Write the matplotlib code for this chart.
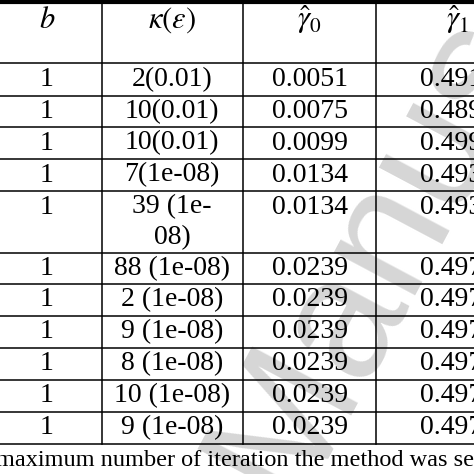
import matplotlib
matplotlib.use("Agg")
import matplotlib.pyplot as plt

headers = [r"$b$", r"$\kappa(\varepsilon)$", r"$\hat{\gamma}_{0}$", r"$\hat{\gamma}_{1}$"]
col_b = ["1"] * 11
col_kappa = ["2(0.01)", "10(0.01)", "10(0.01)", "7(1e-08)", "39 (1e-\n08)", "88 (1e-08)",
             "2 (1e-08)", "9 (1e-08)", "8 (1e-08)", "10 (1e-08)", "9 (1e-08)"]
col_g0 = ["0.0051", "0.0075", "0.0099", "0.0134", "0.0134", "0.0239", "0.0239", "0.0239",
          "0.0239", "0.0239", "0.0239"]
col_g1 = ["0.4914", "0.4898", "0.4996", "0.4930", "0.4930", "0.4977", "0.4977", "0.4977",
          "0.4977", "0.4977", "0.4977"]
footnote = "maximum number of iteration the method was set to, "

plt.rcParams['font.family'] = ['Liberation Serif', 'DejaVu Serif']
plt.rcParams['mathtext.fontset'] = 'stix'

fig = plt.figure(figsize=(4.74, 4.74), dpi=100)
ax = fig.add_axes([0, 0, 1, 1])
ax.set_xlim(0, 474); ax.set_ylim(474, 0); ax.axis('off')

vx = [102, 243, 376]
hy = [63, 96, 127, 159, 191, 253, 284, 316, 348, 380, 412, 444]
ax.plot([0, 474], [1.5, 1.5], color='black', lw=3, zorder=3)
for y in hy:
    ax.plot([0, 474], [y, y], color='black', lw=1.1, zorder=3)
for x in vx:
    ax.plot([x, x], [0, 444], color='black', lw=1.1, zorder=3)

FS = 20
cx = [47, 172, 310, 458]
for x, h in zip(cx, headers):
    ax.text(x, 20, h, ha='center', va='center', fontsize=FS + 2, zorder=3)

tops = [63] + hy[1:-1]
bots = hy[1:]
for i in range(11):
    t, b = tops[i], bots[i]
    yc = (t + b) / 2 if i != 4 else t + 16
    ax.text(cx[0], yc, col_b[i], ha='center', va='center', fontsize=FS, zorder=3)
    ax.text(cx[2], yc, col_g0[i], ha='center', va='center', fontsize=FS, zorder=3)
    ax.text(cx[3], yc, col_g1[i], ha='center', va='center', fontsize=FS, zorder=3)
    if i == 4:
        ax.text(cx[1], t + 16, "39 (1e-", ha='center', va='center', fontsize=FS, zorder=3)
        ax.text(cx[1], t + 47, "08)", ha='center', va='center', fontsize=FS, zorder=3)
    else:
        ax.text(cx[1], yc, col_kappa[i], ha='center', va='center', fontsize=FS, zorder=3)

ax.text(-4, 461, footnote, ha='left', va='center', fontsize=17.5, zorder=3)

ax.text(290, 505, "Manuscript", rotation=62, fontsize=125, color='#d6d6d6',
        ha='left', va='baseline', family='Liberation Sans', zorder=1, rotation_mode='anchor')

fig.savefig("out.png", dpi=100)
